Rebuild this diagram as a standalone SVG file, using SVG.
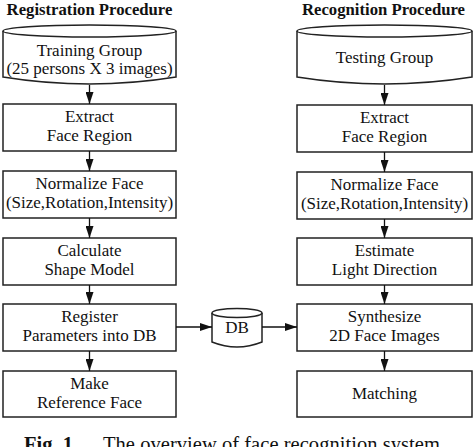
<svg xmlns="http://www.w3.org/2000/svg" width="474" height="447" viewBox="0 0 474 447">
<defs>
<marker id="ah" viewBox="0 0 12 8" refX="12" refY="4" markerWidth="12" markerHeight="8" markerUnits="userSpaceOnUse" orient="auto">
<path d="M0,0 L12,4 L0,8 Z" fill="#111"/>
</marker>
</defs>
<style>
.box{fill:#fff;stroke:#222;stroke-width:1.5}
.t{font-family:"Liberation Serif","Times New Roman",serif;font-size:17px;fill:#111;text-anchor:middle}
.h{font-family:"Liberation Serif","Times New Roman",serif;font-size:16.7px;font-weight:bold;fill:#111;text-anchor:middle}
.c{font-family:"Liberation Serif","Times New Roman",serif;font-size:20.5px;fill:#111}
.ln{stroke:#111;stroke-width:1.3;fill:none;marker-end:url(#ah)}
</style>
<rect width="474" height="447" fill="#fff"/>
<text class="h" x="89.5" y="14.5">Registration Procedure</text>
<text class="h" x="383.5" y="14.5">Recognition Procedure</text>

<g id="training">
<path class="box" d="M3,31 V77 Q89.5,91 176,77 V31"/>
<ellipse class="box" cx="89.5" cy="31" rx="86.5" ry="6"/>
<text class="t" x="89.5" y="56">Training Group</text>
<text class="t" x="89.5" y="74">(25 persons X 3 images)</text>
</g>
<g id="extract-l">
<rect class="box" x="3" y="104" width="173" height="47"/>
<text class="t" x="89.5" y="122">Extract</text>
<text class="t" x="89.5" y="141">Face Region</text>
</g>
<g id="normalize-l">
<rect class="box" x="3" y="171" width="173" height="47"/>
<text class="t" x="89.5" y="189">Normalize Face</text>
<text class="t" x="89.5" y="208">(Size,Rotation,Intensity)</text>
</g>
<g id="calculate">
<rect class="box" x="3" y="238" width="173" height="47"/>
<text class="t" x="89.5" y="256">Calculate</text>
<text class="t" x="89.5" y="275">Shape Model</text>
</g>
<g id="register">
<rect class="box" x="3" y="304" width="173" height="47"/>
<text class="t" x="89.5" y="322">Register</text>
<text class="t" x="89.5" y="341">Parameters into DB</text>
</g>
<g id="make">
<rect class="box" x="3" y="371" width="173" height="46"/>
<text class="t" x="89.5" y="389">Make</text>
<text class="t" x="89.5" y="408">Reference Face</text>
</g>

<g id="testing">
<path class="box" d="M297,31 V77 Q384.5,91 472,77 V31"/>
<ellipse class="box" cx="384.5" cy="31" rx="87.5" ry="6"/>
<text class="t" x="384.5" y="63">Testing Group</text>
</g>
<g id="extract-r">
<rect class="box" x="297" y="105" width="175" height="47"/>
<text class="t" x="384.5" y="123">Extract</text>
<text class="t" x="384.5" y="142">Face Region</text>
</g>
<g id="normalize-r">
<rect class="box" x="297" y="172" width="175" height="47"/>
<text class="t" x="384.5" y="190">Normalize Face</text>
<text class="t" x="384.5" y="209">(Size,Rotation,Intensity)</text>
</g>
<g id="estimate">
<rect class="box" x="297" y="238" width="175" height="47"/>
<text class="t" x="384.5" y="256">Estimate</text>
<text class="t" x="384.5" y="275">Light Direction</text>
</g>
<g id="synthesize">
<rect class="box" x="297" y="304" width="175" height="47"/>
<text class="t" x="384.5" y="322">Synthesize</text>
<text class="t" x="384.5" y="341">2D Face Images</text>
</g>
<g id="matching">
<rect class="box" x="297" y="371" width="175" height="46"/>
<text class="t" x="384.5" y="399">Matching</text>
</g>

<g id="db">
<path class="box" d="M212,313 V342 Q237,352 262,342 V313"/>
<ellipse class="box" cx="237" cy="313" rx="25" ry="4.5"/>
<text class="t" x="237" y="333">DB</text>
</g>

<g id="connectors">
<line class="ln" x1="89.5" y1="85" x2="89.5" y2="104"/>
<line class="ln" x1="89.5" y1="151" x2="89.5" y2="171"/>
<line class="ln" x1="89.5" y1="218" x2="89.5" y2="238"/>
<line class="ln" x1="89.5" y1="285" x2="89.5" y2="304"/>
<line class="ln" x1="89.5" y1="351" x2="89.5" y2="371"/>
<line class="ln" x1="384.5" y1="85" x2="384.5" y2="105"/>
<line class="ln" x1="384.5" y1="152" x2="384.5" y2="172"/>
<line class="ln" x1="384.5" y1="219" x2="384.5" y2="238"/>
<line class="ln" x1="384.5" y1="285" x2="384.5" y2="304"/>
<line class="ln" x1="384.5" y1="351" x2="384.5" y2="371"/>
<line class="ln" x1="176" y1="327" x2="212" y2="327"/>
<line class="ln" x1="262" y1="327" x2="297" y2="327"/>
</g>

<text class="c" x="24" y="450.5"><tspan font-weight="bold">Fig. 1</tspan><tspan x="103" textLength="342" lengthAdjust="spacing">The overview of face recognition system.</tspan></text>
</svg>
